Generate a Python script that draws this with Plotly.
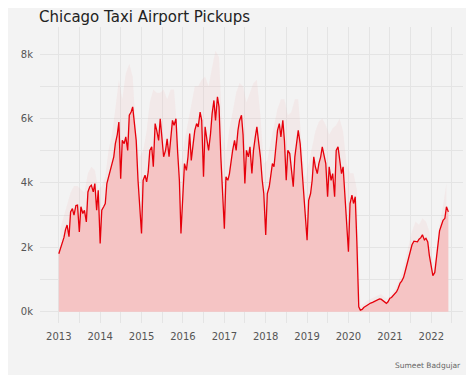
import pandas as pd
import plotly.graph_objects as go

# Semi-monthly smoothed pickups (1st and 15th of each month, Jan 2013 - Jun 2022)
start_date = "2013-01-01"
pickups = [
    1800, 1950, 2170, 2300, 2550, 2690, 2330, 3100, 3200, 3000, 3300, 3310,
    2480, 3260, 3050, 3150, 2790, 3720, 3880, 3930, 3720, 3980, 3150, 3770,
    2120, 3150, 3260, 3360, 3980, 4190, 4390, 4600, 4810, 5220, 5500, 5890,
    4130, 5320, 5220, 5430, 5010, 6100, 6200, 6360, 5740, 5320, 4080, 3260,
    2430, 4080, 4240, 4030, 4340, 5010, 5120, 4500, 5840, 5630, 5320, 5990,
    5320, 4810, 5010, 5370, 4810, 5320, 5940, 5790, 5990, 5000, 4080, 2430,
    3880, 4600, 4390, 4810, 5530, 4700, 5220, 5630, 5840, 5740, 6200, 5940,
    4190, 5740, 5320, 5010, 5530, 6150, 6560, 5940, 6670, 6360, 4800, 3570,
    2580, 4190, 4080, 4290, 4700, 5010, 5320, 5010, 5630, 5940, 6100, 5500,
    3980, 5010, 4810, 5120, 4290, 5010, 5430, 5740, 5220, 4810, 4080, 3670,
    2380, 3670, 3880, 4340, 4600, 4500, 5120, 5630, 5840, 5430, 5940, 5320,
    4080, 5010, 4910, 4390, 3880, 4810, 5320, 5630, 5220, 4500, 3880, 3050,
    2220, 3460, 3670, 4080, 4810, 4500, 4290, 4600, 4810, 5120, 4810, 4600,
    3570, 4500, 4080, 4290, 3570, 5010, 5120, 4810, 4290, 4500, 3570, 2740,
    1860, 3360, 3620, 3360, 3570, 2200, 150, 50, 70, 130, 170, 210,
    250, 270, 290, 310, 350, 380, 400, 390, 350, 290, 260, 310,
    420, 440, 520, 570, 620, 730, 890, 950, 1060, 1240, 1460, 1700,
    1870, 2080, 2190, 2170, 2170, 2250, 2300, 2390, 2230, 2280, 2170, 1750,
    1360, 1120, 1220, 1650, 2170, 2510, 2690, 2840, 2900, 3260, 3100,
]

# Monthly daily-peak envelope (Jan 2013 - May 2022)
peak_start = "2013-01-01"
daily_peaks = [
    2600, 3000, 3300, 3700, 3900, 3900, 3800, 3700, 4300, 4500, 4400, 3800,
    3900, 4200, 5000, 5500, 6300, 7200, 6600, 7400, 7700, 7300, 5500, 4800,
    5000, 5600, 6500, 6900, 6800, 6800, 6900, 6600, 6900, 6900, 5500, 4600,
    5300, 5900, 6500, 7000, 7000, 7200, 7300, 7000, 7600, 8100, 7900, 5600,
    4900, 5700, 6200, 6800, 7100, 7000, 6500, 6800, 7100, 7200, 6100, 4600,
    4700, 5300, 5800, 6300, 6600, 6600, 6100, 6200, 6600, 6600, 5200, 4100,
    4600, 5100, 5600, 5900, 6000, 5800, 5500, 5700, 5800, 6000, 5600, 4600,
    4300, 4300, 3800, 200, 250, 350, 400, 450, 500, 550, 450, 400,
    550, 700, 900, 1200, 1600, 2100, 2500, 2800, 2700, 2900, 2800, 2500,
    1500, 1700, 2700, 3300, 4000,
]

y_tickvals = [0, 2000, 4000, 6000, 8000]
y_ticktext = ["0k", "2k", "4k", "6k", "8k"]

dates = pd.date_range(start_date, periods=len(pickups), freq="SMS")
peak_dates = pd.date_range(peak_start, periods=len(daily_peaks), freq="MS") + pd.Timedelta(days=14)

BG = "#f3f3f3"
GRID = "#e4e4e4"
FONT = "DejaVu Sans"

# page body has an 8px margin; the figure is sized to fill the rest of the window
W, H = 466, 367

fig = go.Figure()
fig.add_trace(go.Scatter(
    x=peak_dates, y=daily_peaks, mode="lines",
    line=dict(width=0, color="rgba(235,120,120,0.08)"),
    fill="tozeroy", fillcolor="rgba(235,120,120,0.075)",
    hoverinfo="skip", showlegend=False,
))
fig.add_trace(go.Scatter(
    x=dates, y=pickups, mode="lines",
    line=dict(width=1.3, color="#e6000b"),
    fill="tozeroy", fillcolor="#f5c4c4",
    showlegend=False,
))

fig.update_layout(
    width=W, height=H,
    paper_bgcolor=BG, plot_bgcolor=BG,
    margin=dict(l=32, r=11, t=19, b=52),
    font=dict(family=FONT, color="#555555"),
    title=dict(
        text="Chicago Taxi Airport Pickups",
        font=dict(family=FONT, size=15, color="#222222"),
        x=31 / W, xanchor="left", xref="container",
        y=1 - 3 / H, yanchor="top", yref="container",
    ),
    xaxis=dict(
        type="date",
        range=["2012-07-19", "2022-10-08"],
        tick0="2013-01-01", dtick="M12", tickformat="%Y",
        showgrid=True, gridcolor=GRID, gridwidth=1,
        minor=dict(dtick="M6", tick0="2013-01-01", showgrid=True, gridcolor=GRID),
        zeroline=False, showline=False,
        ticks="outside", ticklen=4, tickcolor=BG,
        tickfont=dict(family=FONT, size=10, color="#555555"),
    ),
    yaxis=dict(
        range=[-350, 8840],
        tickvals=y_tickvals, ticktext=y_ticktext,
        showgrid=True, gridcolor=GRID, gridwidth=1,
        minor=dict(dtick=1000, tick0=0, showgrid=True, gridcolor=GRID),
        zeroline=False, showline=False,
        ticks="outside", ticklen=4, tickcolor=BG,
        tickfont=dict(family=FONT, size=10, color="#555555"),
    ),
    annotations=[dict(
        text="Sumeet Badgujar", xref="paper", yref="paper",
        x=1.0, y=-(357 - 315) / 296, xanchor="right", yanchor="middle",
        showarrow=False, font=dict(family=FONT, size=7.5, color="#666666"),
    )],
)

fig.write_html("out.html")
